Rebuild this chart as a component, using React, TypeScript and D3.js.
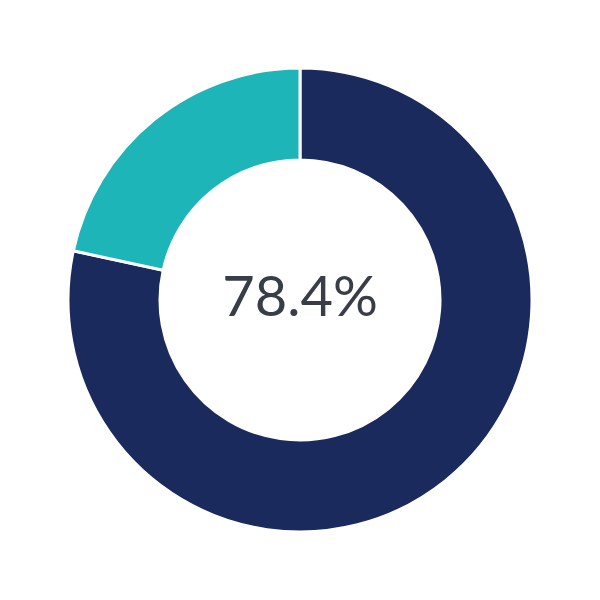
import * as d3 from "d3";
import { useEffect, useRef } from "react";

const labels = ["Yes", "No"];
const values = [78.4, 21.6];
const colors = ["#1b2a5c", "#1db5b8"];
const centerLabel = "78.4%";

export default function App() {
  const ref = useRef(null);
  const width = 600;
  const height = 600;
  const outerRadius = 232;
  const innerRadius = 140;

  useEffect(() => {
    draw();
  });

  function draw() {
    const svg = d3.select(ref.current);
    svg.selectAll("*").remove();

    const plot = svg
      .attr("width", width)
      .attr("height", height)
      .append("g")
      .attr("transform", "translate(" + width / 2 + "," + height / 2 + ")");

    const pie = d3
      .pie<number>()
      .sort(null)
      .value((d) => d);
    const arc = d3
      .arc<d3.PieArcDatum<number>>()
      .innerRadius(innerRadius)
      .outerRadius(outerRadius);

    plot
      .selectAll("path")
      .data(pie(values))
      .enter()
      .append("path")
      .attr("d", arc)
      .attr("fill", (d, i) => colors[i])
      .attr("stroke", "#ffffff")
      .attr("stroke-width", 3)
      .append("title")
      .text((d, i) => labels[i]);

    // center value, nudged up slightly
    plot
      .append("text")
      .attr("x", 0)
      .attr("y", -4)
      .attr("dy", "0.35em")
      .style("text-anchor", "middle")
      .style("font-family", "Lato, 'Open Sans', sans-serif")
      .style("font-size", "56px")
      .attr("fill", "#383d47")
      .text(centerLabel);
  }

  return (
    <svg
      width={width}
      height={height}
      ref={ref}
      style={{ position: "absolute", left: 0, top: 0 }}
    ></svg>
  );
}
